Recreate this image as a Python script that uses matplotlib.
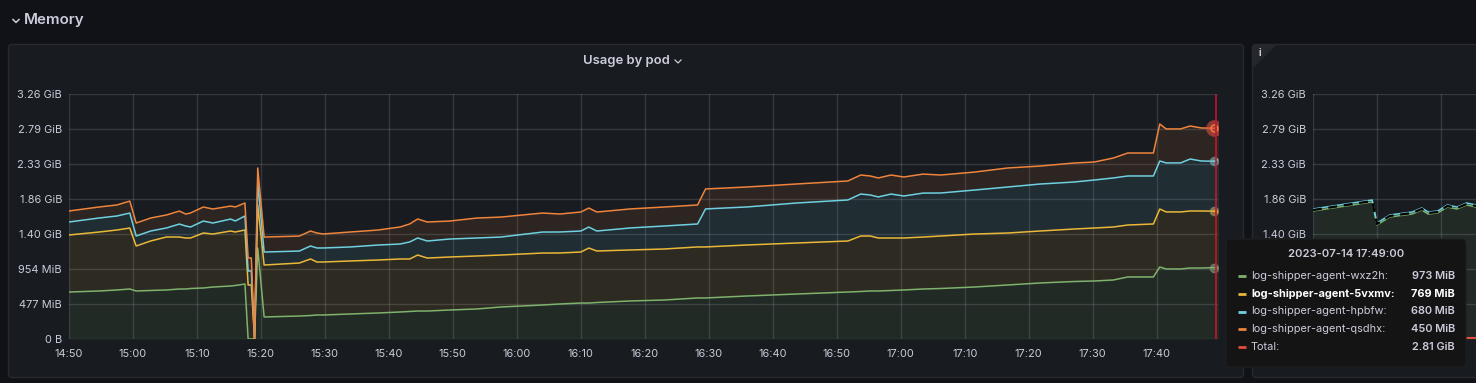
import numpy as np
import pandas as pd
import matplotlib
matplotlib.use('Agg')
import matplotlib.pyplot as plt
import matplotlib.dates as mdates
from matplotlib.patches import FancyBboxPatch, Polygon

plt.rcParams['font.family'] = ['Inter', 'DejaVu Sans']

W, H = 1476, 383

# ---------------- data (MiB) ----------------
start = pd.Timestamp('2023-07-14 14:50:00')
minutes = [0, 4.75, 7.5, 9.5, 10.5, 12.75, 15.25, 17.25, 18.25, 19, 21, 22.5, 25.25, 26, 27.5,
           28, 28.5, 29, 29.5, 30.5, 36, 37.75, 38.75, 39.75, 44, 48.25, 51.75, 53.25, 54.5, 56,
           59.5, 63.75, 67.5, 74, 76.75, 80, 81.25, 82.5, 87.75, 93, 98.25, 99.5, 106, 113.75,
           121.75, 123.75, 125.25, 126.5, 128.5, 130.5, 133.5, 136.25, 141.5, 146.75, 151.75,
           157, 160.25, 163.25, 165.5, 169.5, 170.5, 171.5, 173.75, 175.25, 177, 179, 179.75]

wxz2h = [640, 654, 668, 681, 654, 661, 668, 681, 681, 688, 695, 708, 722, 729, 749,
         0, 0, 0, 1240, 300, 313, 320, 327, 327, 341, 354, 368, 375, 381, 381,
         395, 409, 436, 463, 477, 490, 490, 497, 518, 531, 559, 559, 586, 613,
         640, 647, 654, 654, 661, 668, 681, 688, 708, 736, 763,
         783, 790, 804, 845, 845, 981, 954, 954, 967, 967, 973, 967]

vxmv = [777, 804, 817, 831, 613, 674, 722, 708, 695, 688, 749, 722, 749, 729, 736,
        736, 736, 0, 586, 708, 722, 770, 722, 722, 722, 722, 722, 715, 763, 722,
        722, 722, 708, 708, 695, 695, 749, 702, 695, 695, 695, 695, 695, 695,
        695, 756, 749, 722, 715, 708, 708, 715, 722, 708, 708,
        715, 722, 722, 708, 722, 790, 777, 777, 777, 777, 769, 763]

hpbfw = [177, 191, 191, 204, 136, 136, 123, 177, 163, 150, 163, 150, 163, 150, 191,
         191, 191, 0, 313, 177, 163, 177, 191, 191, 191, 204, 204, 232, 232, 232,
         245, 245, 245, 286, 286, 286, 286, 272, 300, 313, 313, 518, 518, 545,
         559, 572, 559, 559, 599, 572, 599, 586, 599, 627, 640,
         640, 654, 668, 668, 654, 654, 668, 668, 708, 681, 680, 722]

qsdhx = [150, 150, 150, 163, 177, 177, 177, 177, 163, 191, 191, 191, 177, 191, 177,
         177, 177, 0, 191, 204, 204, 204, 204, 191, 204, 204, 232, 245, 259, 259,
         245, 272, 272, 259, 245, 259, 259, 259, 259, 259, 259, 272, 272, 259,
         259, 259, 259, 259, 259, 259, 259, 245, 245, 259, 245,
         259, 245, 272, 313, 313, 504, 463, 463, 450, 450, 450, 436]

series_names = ['log-shipper-agent-wxz2h', 'log-shipper-agent-5vxmv',
                'log-shipper-agent-hpbfw', 'log-shipper-agent-qsdhx']
series_colors = ['#7EB26D', '#EAB839', '#6ED0E0', '#EF843C']
total_color = '#E24D42'

y_ticks_mib = [0, 476.84, 953.67, 1430.51, 1907.35, 2384.19, 2861.02, 3337.86]
y_labels = ['0 B', '477 MiB', '954 MiB', '1.40 GiB', '1.86 GiB', '2.33 GiB', '2.79 GiB', '3.26 GiB']
# labels of the right panel that remain visible (others are under the tooltip)
y_labels_right = ['', '', '', '1.40 GiB', '1.86 GiB', '2.33 GiB', '2.79 GiB', '3.26 GiB']

tooltip_time = '2023-07-14 17:49:00'
tooltip_values = ['973 MiB', '769 MiB', '680 MiB', '450 MiB']
tooltip_total = '2.81 GiB'
hover_minute = 179
cursor_minute = 179.35

# right-hand (partially visible) panel
right_minutes = [0, 9.25, 10, 12, 15.5, 17, 18, 19.5, 21, 22.5, 24, 25.5]
right_top = [1771, 1894, 1580, 1690, 1730, 1785, 1730, 1744, 1826, 1798, 1853, 1826]
right_dash = [1757, 1880, 1567, 1676, 1717, 1771, 1717, 1730, 1812, 1785, 1839, 1812]
right_green = [1744, 1867, 1553, 1662, 1703, 1757, 1703, 1717, 1798, 1771, 1826, 1798]
right_red = [12, 12]
right_red_minutes = [0, 25.5]

# ---------------- styling ----------------
PAGE = '#111217'
PANEL = '#181b1f'
TXT = '#ccccdc'
GRID = '#ccccdc'
TICK_FS = 7.9

fig = plt.figure(figsize=(W / 100, H / 100), dpi=100)
fig.patch.set_facecolor(PAGE)


def px_axes(l, t, r, b, **kw):
    return fig.add_axes([l / W, 1 - b / H, (r - l) / W, (b - t) / H], **kw)


def to_time(mins):
    return start + pd.to_timedelta(np.asarray(mins, dtype=float), unit='min')


# background layer
bg = px_axes(0, 0, W, H, zorder=0)
bg.set_xlim(0, W)
bg.set_ylim(H, 0)
bg.axis('off')
bg.add_patch(FancyBboxPatch((8.5, 44.5), 1235, 333, boxstyle='round,pad=0,rounding_size=3',
                            fc=PANEL, ec='#26292e', lw=1))
bg.add_patch(FancyBboxPatch((1252.5, 44.5), 260, 333, boxstyle='round,pad=0,rounding_size=3',
                            fc=PANEL, ec='#26292e', lw=1))
bg.add_patch(Polygon([(1253, 45), (1276, 45), (1253, 68)], closed=True, fc='#24272c', ec='none'))
bg.text(1260, 53, 'i', color=TXT, fontsize=7, fontweight='bold', ha='center', va='center')
# section header
bg.plot([13, 16, 19], [19.5, 22.5, 19.5], color=TXT, lw=1.1)
bg.text(24, 20, 'Memory', color=TXT, fontsize=10.9, fontweight='semibold', ha='left', va='center')
# panel title
bg.text(583, 61, 'Usage by pod', color=TXT, fontsize=9.4, fontweight='semibold', ha='left', va='center')
bg.plot([675, 678, 681], [60, 63, 60], color=TXT, lw=0.9)

# ---------------- main chart ----------------
ax = px_axes(69, 94, 1218, 339, zorder=2)
ax.set_facecolor('none')
t = to_time(minutes)
lower = np.zeros(len(minutes))
for vals, col in zip([wxz2h, vxmv, hpbfw, qsdhx], series_colors):
    upper = lower + np.asarray(vals, dtype=float)
    ax.fill_between(t, lower, upper, color=col, alpha=0.1, lw=0, zorder=2)
    ax.plot(t, upper, color=col, lw=1.1, zorder=3)
    lower = upper

# hover markers
hi = minutes.index(hover_minute)
cum = 0.0
ht = to_time([hover_minute])
for i, (vals, col) in enumerate(zip([wxz2h, vxmv, hpbfw, qsdhx], series_colors)):
    cum += vals[hi]
    if i == 3:
        ax.plot(ht, [cum], 'o', ms=12, mfc=total_color, mec='none', alpha=0.6, zorder=5)
        ax.plot(ht, [cum], 'o', ms=5, mfc='none', mec=col, mew=1, zorder=6)
    else:
        ax.plot(ht, [cum], 'o', ms=6, mfc=col, mec='#9a9a9a', mew=1, alpha=0.5, zorder=5)

ax.axvline(to_time([cursor_minute])[0], color='#c4162a', lw=1.2, zorder=6)

ax.set_xlim(to_time([0])[0], to_time([179.6])[0])
ax.set_ylim(0, y_ticks_mib[-1])
ax.set_yticks(y_ticks_mib)
ax.set_yticklabels(y_labels)
ax.xaxis.set_major_locator(mdates.MinuteLocator(byminute=range(0, 60, 10)))
ax.xaxis.set_major_formatter(mdates.DateFormatter('%H:%M'))
ax.tick_params(length=0, colors=TXT, labelsize=TICK_FS, pad=5)
ax.tick_params(axis='x', pad=7)
ax.grid(True, color=GRID, alpha=0.17, lw=1)
ax.set_axisbelow(True)
for s in ax.spines.values():
    s.set_visible(False)

# ---------------- right panel ----------------
ax2 = px_axes(1313, 94, W, 339, zorder=2)
ax2.set_facecolor('none')
rt = to_time(right_minutes)
ax2.fill_between(rt, 0, right_green, color='#7EB26D', alpha=0.1, lw=0)
ax2.plot(rt, right_green, color='#7EB26D', lw=1.1)
ax2.plot(rt, right_top, color='#6ED0E0', lw=1.1)
ax2.plot(rt, right_dash, color='#000000', lw=1.6, ls=(0, (4, 3)))
ax2.plot(to_time(right_red_minutes), right_red, color=total_color, lw=1.5)
ax2.set_xlim(to_time([0])[0], to_time([25.48])[0])
ax2.set_ylim(0, y_ticks_mib[-1])
ax2.set_yticks(y_ticks_mib)
ax2.set_yticklabels(y_labels_right)
ax2.xaxis.set_major_locator(mdates.MinuteLocator(byminute=range(0, 60, 10)))
ax2.set_xticklabels([])
ax2.tick_params(length=0, colors=TXT, labelsize=TICK_FS, pad=5)
ax2.grid(True, color=GRID, alpha=0.17, lw=1)
ax2.set_axisbelow(True)
for s in ax2.spines.values():
    s.set_visible(False)

# ---------------- tooltip ----------------
fg = px_axes(0, 0, W, H, zorder=10)
fg.set_facecolor('none')
fg.set_xlim(0, W)
fg.set_ylim(H, 0)
fg.axis('off')
fg.add_patch(FancyBboxPatch((1226, 239), 240, 128, boxstyle='round,pad=0,rounding_size=4',
                            fc='#141414', ec='#1e1f22', lw=0.8))
fg.text(1346, 254, tooltip_time, color=TXT, fontsize=8.1, fontweight='semibold', ha='center', va='center')
row_y = [276, 294, 311.5, 329, 347]
labels = [n + ':' for n in series_names] + ['Total:']
values = tooltip_values + [tooltip_total]
colors = series_colors + [total_color]
for i, (yy, lab, val, col) in enumerate(zip(row_y, labels, values, colors)):
    fg.plot([1238, 1246], [yy, yy], color=col, lw=2, solid_capstyle='butt')
    hl = (i == 1)
    fg.text(1251, yy, lab, color='#ffffff' if hl else TXT, fontsize=7.9,
            fontweight='bold' if hl else 'normal', ha='left', va='center')
    fg.text(1455, yy, val, color='#ffffff' if hl else TXT, fontsize=7.9,
            fontweight='bold' if hl else 'semibold', ha='right', va='center')

fig.savefig('out.png', dpi=100, facecolor=PAGE)
